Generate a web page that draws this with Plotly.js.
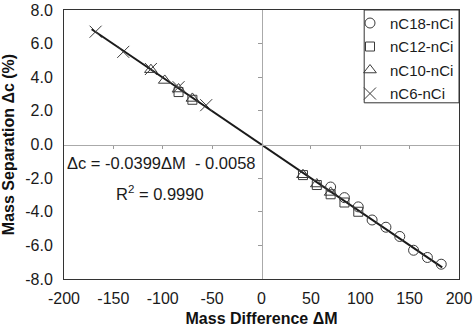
<!DOCTYPE html>
<html><head><meta charset="utf-8">
<script src="https://cdn.plot.ly/plotly-3.0.1.min.js"></script>
<style>html,body{margin:0;padding:0;background:#fff}#chart{width:474px;height:329px}</style>
</head><body><div id="chart"></div>
<script>
// Data
const c18_x = [70, 84, 98, 112, 126, 140, 154, 168, 182];
const c18_y = [-2.53, -3.16, -3.71, -4.49, -4.92, -5.47, -6.29, -6.72, -7.12];
const c12_x = [-84, -70, 42, 56, 70, 84, 98];
const c12_y = [3.12, 2.66, -1.82, -2.41, -2.96, -3.45, -4.00];
const c10_x = [-112, -98, -84, -70, 42, 56, 70];
const c10_y = [4.45, 3.81, 3.30, 2.74, -1.80, -2.35, -2.85];
const c6_x = [-168, -140, -112, -84, -56];
const c6_y = [6.71, 5.51, 4.49, 3.41, 2.34];
const fit_slope = -0.0399, fit_icpt = -0.0058;
const fit_x = [-172, 183];
const fit_y = fit_x.map(v => fit_slope * v + fit_icpt);
const xTickVals = [-200, -150, -100, -50, 0, 50, 100, 150, 200];
const xTickText = ['-200', '-150', '-100', '-50', '0', '50', '100', '150', '200'];
const yTickVals = [-8, -6, -4, -2, 0, 2, 4, 6, 8];
const yTickText = ['-8.0', '-6.0', '-4.0', '-2.0', '0.0', '2.0', '4.0', '6.0', '8.0'];
const names = ['nC18-nCi', 'nC12-nCi', 'nC10-nCi', 'nC6-nCi'];

const F = 'Arial, "Liberation Sans", sans-serif';
const MC = '#3a3a3a';
const mk = (sym, size) => ({symbol: sym, size: size, color: MC, line: {color: MC, width: 1}});

const traces = [
  {x: fit_x, y: fit_y, mode: 'lines', line: {color: '#1a1a1a', width: 2}, showlegend: false, hoverinfo: 'skip'},
  {x: c18_x, y: c18_y, mode: 'markers', name: names[0], legendgroup: 'a', marker: mk('circle-open', 10)},
  {x: c12_x, y: c12_y, mode: 'markers', name: names[1], legendgroup: 'b', marker: mk('square-open', 9)},
  {x: c10_x, y: c10_y, mode: 'markers', name: names[2], legendgroup: 'c', marker: mk('triangle-up-open', 11)},
  {x: c6_x, y: c6_y, mode: 'markers', name: names[3], legendgroup: 'd', marker: mk('x-thin-open', 12)},
  {x: [], y: [], xaxis: 'x2', yaxis: 'y', showlegend: false},
  {x: [], y: [], xaxis: 'x', yaxis: 'y2', showlegend: false}
];

const layout = {
  width: 474, height: 329,
  margin: {l: 64, r: 15, t: 7, b: 50},
  paper_bgcolor: '#fff', plot_bgcolor: '#fff',
  font: {family: F, color: '#1a1a1a', size: 16},
  showlegend: true,
  legend: {x: 1, y: 1.012, xanchor: 'right', yanchor: 'top', bgcolor: 'rgba(0,0,0,0)', borderwidth: 0,
           font: {family: F, size: 15, color: '#1a1a1a'}, tracegroupgap: 1, itemwidth: 30},
  shapes: [
    {type: 'rect', xref: 'paper', yref: 'paper', x0: 0.76, x1: 1, y0: 0.655, y1: 1,
     line: {color: '#333', width: 1}, fillcolor: 'rgba(0,0,0,0)', layer: 'below'}
  ],
  xaxis: {range: [-200, 200], tickvals: xTickVals, ticktext: xTickText, ticks: '', showgrid: false, zeroline: false,
          showline: true, mirror: true, linecolor: '#333', linewidth: 1, ticklabelstandoff: 5, ticklabeloverflow: 'allow',
          tickfont: {family: F, size: 16, color: '#1a1a1a'},
          title: {text: '<b>Mass Difference ΔM</b>', font: {family: F, size: 16, color: '#111'}, standoff: 6}},
  yaxis: {range: [-8, 8], tickvals: yTickVals, ticktext: yTickText, ticks: '', showgrid: false, zeroline: false,
          showline: true, mirror: true, linecolor: '#333', linewidth: 1, ticklabelstandoff: 7, ticklabeloverflow: 'allow',
          tickfont: {family: F, size: 16, color: '#1a1a1a'},
          title: {text: '<b>Mass Separation Δc (%)</b>', font: {family: F, size: 16, color: '#111'}, standoff: 6}},
  xaxis2: {overlaying: 'x', anchor: 'free', position: 0.5, side: 'bottom', range: [-200, 200],
           tickvals: [-150, -100, -50, 50, 100, 150], ticks: 'outside', ticklen: 3, tickcolor: '#999',
           showticklabels: false, showline: true, linecolor: '#aaa', linewidth: 1, showgrid: false, zeroline: false},
  yaxis2: {overlaying: 'y', anchor: 'free', position: 0.5, side: 'left', range: [-8, 8],
           tickvals: [-6, -4, -2, 2, 4, 6], ticks: 'outside', ticklen: 4, tickcolor: '#999',
           showticklabels: false, showline: true, linecolor: '#aaa', linewidth: 1, showgrid: false, zeroline: false},
  annotations: [
    {x: -200, y: -1.12, xref: 'x', yref: 'y', xanchor: 'left', xshift: 1, showarrow: false,
     text: 'Δc = -0.0399ΔM  - 0.0058', font: {family: F, size: 16.5, color: '#1a1a1a'}},
    {x: -103, y: -2.86, xref: 'x', yref: 'y', xanchor: 'center', showarrow: false,
     text: 'R<sup>2</sup> = 0.9990', font: {family: F, size: 16.5, color: '#1a1a1a'}}
  ]
};
Plotly.newPlot('chart', traces, layout, {displayModeBar: false, staticPlot: true});
</script></body></html>
